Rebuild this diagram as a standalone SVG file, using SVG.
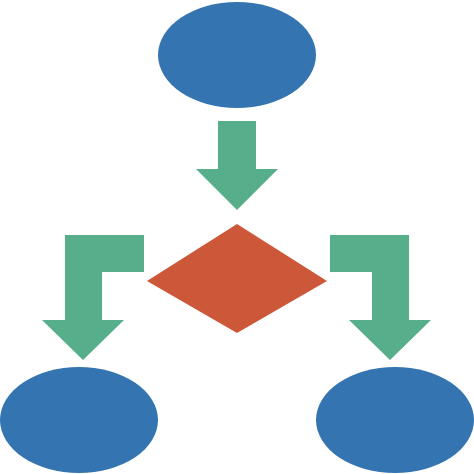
<svg xmlns="http://www.w3.org/2000/svg" width="474" height="474" viewBox="0 0 474 474">
<style>
.term{fill:#3474b1}
.dec{fill:#cd5739}
.arr{fill:#56ae8a}
</style>
<rect width="474" height="474" fill="#ffffff"/>
<g id="start"><ellipse class="term" cx="237" cy="55" rx="79" ry="53"/></g>
<g id="decision"><polygon class="dec" points="237,224 327,281 237,333 147,281"/></g>
<g id="end-left"><ellipse class="term" cx="79" cy="420" rx="79" ry="53"/></g>
<g id="end-right"><ellipse class="term" cx="395" cy="420" rx="79" ry="53"/></g>
<g id="connectors">
<polygon class="arr" points="218,121 256,121 256,169 278,169 237,210 196,169 218,169"/>
<polygon class="arr" points="144,235 144,272 102,272 102,320 124,320 83,360 42,320 65,320 65,235"/>
<polygon class="arr" points="330,235 330,272 372,272 372,320 349,320 390,360 431,320 409,320 409,235"/>
</g>
</svg>
